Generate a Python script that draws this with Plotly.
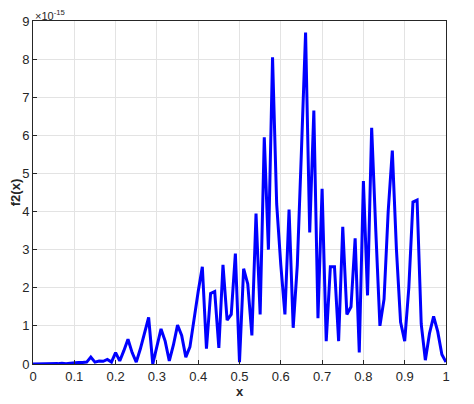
import plotly.graph_objects as go

x = [i / 100 for i in range(101)]
y = [0.0, 0.0, 0.0, 0.0, 0.0, 0.0, 0.01, 0.02, 0.01, 0.02, 0.04, 0.04, 0.04, 0.05,
     0.18, 0.05, 0.08, 0.07, 0.12, 0.05, 0.3, 0.08, 0.35, 0.65, 0.3, 0.05, 0.4, 0.8, 1.22, 0.0,
     0.45, 0.92, 0.6, 0.08, 0.5, 1.02, 0.75, 0.18, 0.45, 1.2, 1.9, 2.55, 0.4, 1.85, 1.9, 0.42,
     2.6, 1.15, 1.3, 2.9, 0.05, 2.5, 2.1, 0.75, 3.95, 1.3, 5.95, 3.0, 8.05, 4.2, 2.6, 1.3,
     4.05, 0.95, 2.6, 5.6, 8.7, 3.45, 6.65, 1.2, 4.6, 0.6, 2.55, 2.55, 0.6, 3.6, 1.3, 1.5,
     3.3, 0.3, 4.8, 1.8, 6.2, 3.5, 1.0, 1.7, 4.0, 5.6, 3.0, 1.1, 0.6, 2.0, 4.25, 4.3, 1.05,
     0.1, 0.8, 1.25, 0.85, 0.25, 0.05]
xticks = [round(i / 10, 1) for i in range(11)]
xlabels = ['0', '0.1', '0.2', '0.3', '0.4', '0.5', '0.6', '0.7', '0.8', '0.9', '1']

fig = go.Figure(go.Scatter(x=x, y=y, mode='lines', line=dict(color='#0000ff', width=3)))

ax = dict(showline=True, linecolor='#262626', linewidth=1, mirror=True, ticks='inside',
          ticklen=4, tickcolor='#262626', showgrid=True, gridcolor='#e3e3e3', zeroline=False,
          tickfont=dict(size=13, color='#262626'), automargin=False)
fig.update_xaxes(ax, range=[0, 1], tickvals=xticks, ticktext=xlabels,
                 title=dict(text='<b>x</b>', standoff=2, font=dict(size=13, color='#262626')))
fig.update_yaxes(ax, range=[0, 9], dtick=1,
                 title=dict(text='<b>f2(x)</b>', standoff=2, font=dict(size=13, color='#262626')))
fig.add_annotation(text='\u00d710<sup>-15</sup>', xref='paper', yref='paper', x=0, y=1,
                   xanchor='left', yanchor='bottom', showarrow=False, yshift=-3,
                   font=dict(size=11, color='#262626'))
fig.update_layout(width=474, height=404, plot_bgcolor='white', paper_bgcolor='white',
                  margin=dict(l=25, r=36, t=13, b=48), showlegend=False,
                  font=dict(family='Liberation Sans, Arial, sans-serif'))
fig.write_html('out.html')
